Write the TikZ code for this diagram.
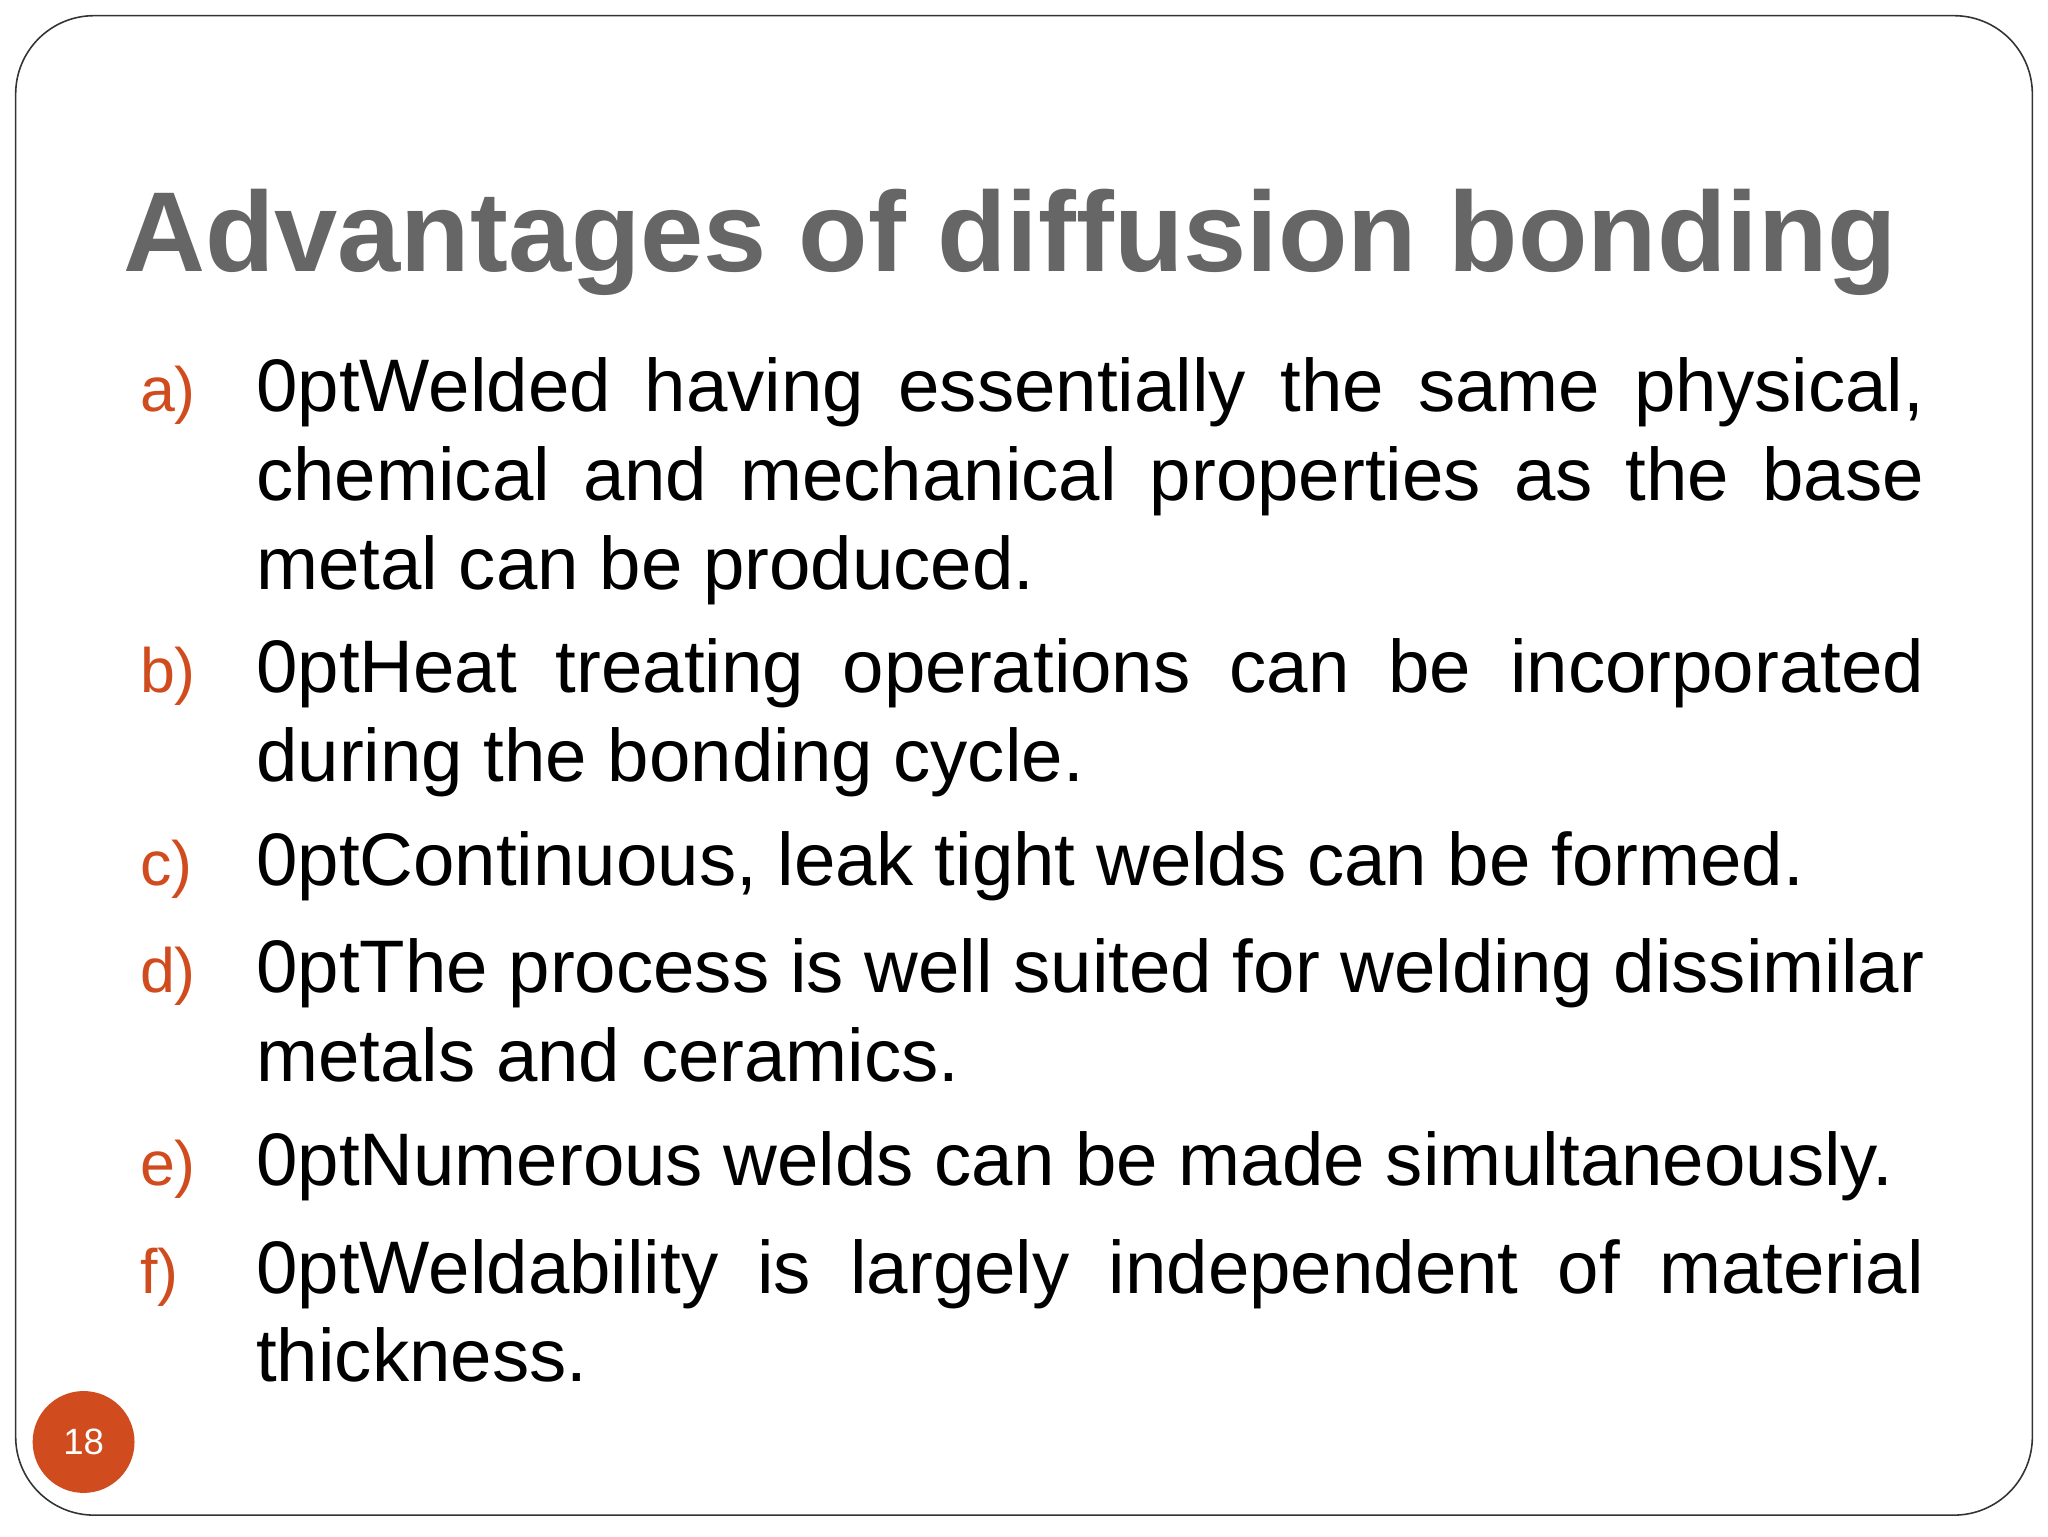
\documentclass[tikz,border=0pt]{standalone}
\usepackage{fontspec}
\setmainfont{Liberation Sans}
\definecolor{acc}{RGB}{208,76,30}
\definecolor{ttl}{RGB}{102,102,102}
\begin{document}
\begin{tikzpicture}[x=1pt,y=-1pt,
  item/.style={anchor=base west,inner sep=0pt,text width=1277pt,align=justify,font=\fontsize{57}{68}\selectfont\hyphenpenalty=10000\exhyphenpenalty=10000},
  lab/.style={anchor=base west,inner sep=0pt,text=acc,font=\fontsize{48}{58}\selectfont}]
\useasboundingbox[fill=white] (0,0) rectangle (1568,1176);
\draw[line width=1.2pt,rounded corners=60pt,black!80] (12,12) rectangle (1556,1160);
\node[anchor=base west,inner sep=0pt,text=ttl,font=\bfseries\fontsize{87}{100}\selectfont] (title) at (94,208) {Advantages of diffusion bonding};
\node[lab] (la) at (107,315) {a)};
\node[item] (ia) at (196,315) {Welded having essentially the same physical,\linebreak chemical and mechanical properties as the base\linebreak metal can be produced.};
\node[lab] (lb) at (107,530) {b)};
\node[item] (ib) at (196,530) {Heat treating operations can be incorporated\linebreak during the bonding cycle.};
\node[lab] (lc) at (107,678) {c)};
\node[item] (ic) at (196,678) {Continuous, leak tight welds can be formed.};
\node[lab] (ld) at (107,760) {d)};
\node[item] (id) at (196,760) {The process is well suited for welding dissimilar\linebreak metals and ceramics.};
\node[lab] (le) at (107,908) {e)};
\node[item] (ie) at (196,908) {Numerous welds can be made simultaneously.};
\node[lab] (lf) at (107,990) {f)};
\node[item] (if) at (196,990) {Weldability is largely independent of material\linebreak thickness.};
\node[circle,fill=acc,minimum size=78pt,inner sep=0pt,text=white,font=\fontsize{28}{30}\selectfont] (num) at (64,1104) {18};
\end{tikzpicture}
\end{document}
